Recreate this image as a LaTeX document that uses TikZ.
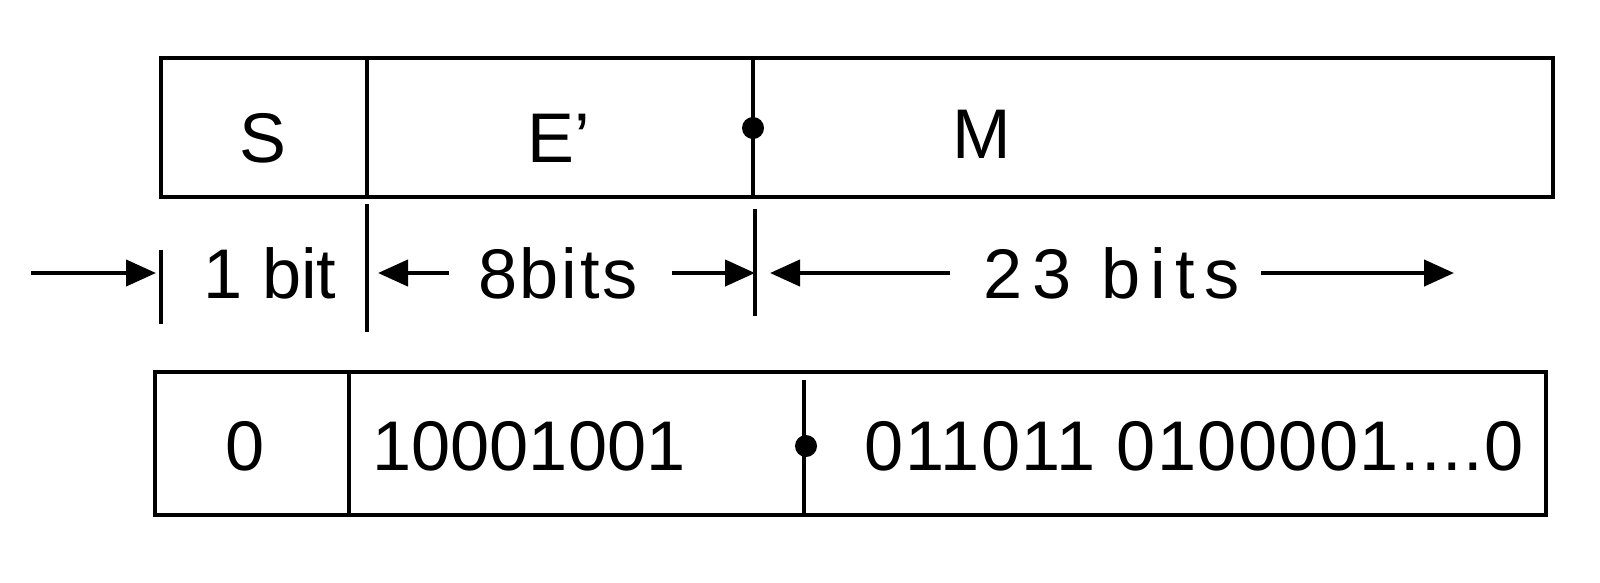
\documentclass[tikz,border=0pt]{standalone}
\usepackage{fontspec}
\setmainfont{Liberation Sans}
\usetikzlibrary{arrows.meta}

\begin{document}
\begin{tikzpicture}[line width=1.2pt,
  arr/.style={-{Triangle[length=3mm,width=2.6mm]}},
  lbl/.style={font=\fontsize{20}{24}\selectfont, inner sep=2pt},
  dot/.style={circle, fill, inner sep=0pt, minimum size=2.2mm}]
\useasboundingbox (0,0) rectangle (16,5.82);
% format row
\draw (1.61,5.24) rectangle (15.53,3.85);
\draw (3.67,5.24)--(3.67,3.85);
\draw (7.53,5.24)--(7.53,3.85);
\node[lbl] (s) at (2.63,4.44) {S};
\node[lbl] (e) at (5.59,4.44) {E’};
\node[lbl] (m) at (9.82,4.48) {M};
\node[dot] (d1) at (7.53,4.54) {};
% widths
\draw (1.61,3.32)--(1.61,2.58);
\draw (3.67,3.78)--(3.67,2.50);
\draw (7.55,3.73)--(7.55,2.66);
\coordinate (start) at (0.31,3.09);
\coordinate (sb) at (1.61,3.09);
\coordinate (eb) at (3.67,3.09);
\coordinate (mb) at (7.55,3.09);
\coordinate (end) at (14.54,3.09);
\node[lbl] (one) at (2.70,3.09) {1 bit};
\node[lbl] (eight) at (5.58,3.09) {\addfontfeature{LetterSpace=4}8bits};
\node[lbl] (tw) at (11.12,3.09) {\addfontfeature{LetterSpace=14}23 bits};
\draw[arr, shorten >=0.5mm] (start)--(sb);
\draw[arr, shorten >=1.1mm] (eight.west)++(-0.2,0)--(eb);
\draw[arr] (eight.east)++(0.25,0)--(mb);
\draw[arr, shorten >=1.5mm] (tw.west)++(-0.25,0)--(mb);
\draw[arr] (tw.east)++(0.12,0)--(end);
% value row
\draw (1.55,2.10) rectangle (15.46,0.67);
\draw (3.49,2.10)--(3.49,0.67);
\draw (8.04,2.02)--(8.04,0.67);
\node[lbl] (sv) at (2.45,1.36) {0};
\node[lbl] (ev) at (5.29,1.36) {10001001};
\node[lbl] (mv) at (11.94,1.36) {\addfontfeature{LetterSpace=2}011011 0100001....0};
\node[dot] (d2) at (8.06,1.36) {};
\end{tikzpicture}
\end{document}
